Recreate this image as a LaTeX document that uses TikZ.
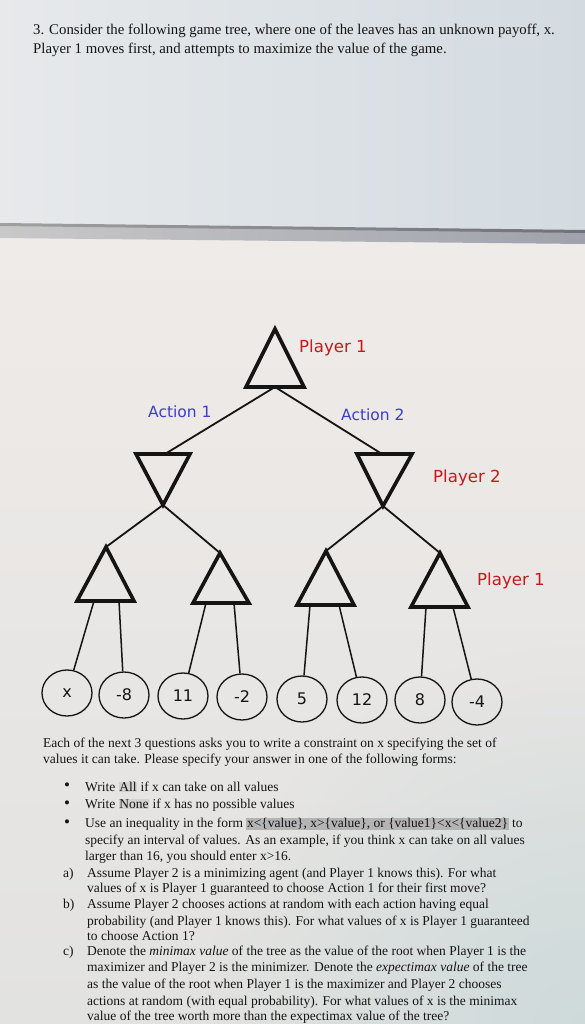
\documentclass[tikz,border=0pt]{standalone}
\usepackage{fontspec}
\setmainfont{Liberation Serif}
\newfontfamily\dejavu{DejaVu Sans}
\usetikzlibrary{shapes.geometric,fadings}
\tikzfading[name=softglow, inner color=transparent!0, outer color=transparent!100]
\definecolor{lblred}{HTML}{C41A1A}
\definecolor{lblblue}{HTML}{3C3CCF}
\definecolor{inkc}{HTML}{141414}
\definecolor{hllight}{HTML}{D2D2D2}
\definecolor{hldark}{HTML}{B4B4B4}
\definecolor{bgTL}{HTML}{E7E9EB}
\definecolor{bgTR}{HTML}{D3DBE1}
\definecolor{bandL}{HTML}{C9C8C9}
\definecolor{bandR}{HTML}{9FA2AC}
\definecolor{midbg}{HTML}{EFEBE9}
\definecolor{lowL}{HTML}{E2E2E0}
\definecolor{lowR}{HTML}{CCD9DA}
\newcommand\hlA[1]{{\setlength{\fboxsep}{0.6pt}\colorbox{hllight}{#1}}}
\newcommand\hlB[1]{{\setlength{\fboxsep}{0.6pt}\colorbox{hldark}{#1}}}
\tikzset{
  tri/.style={draw=inkc, line width=3.6pt, line join=miter},
  edge/.style={draw=inkc, line width=1.8pt},
  leafedge/.style={draw=inkc, line width=1.5pt},
  leaf/.style={ellipse, draw=inkc, line width=1.3pt, minimum width=50pt, minimum height=46pt, inner sep=0pt, font=\dejavu\fontsize{16}{19}\selectfont, text=inkc},
  plabel/.style={anchor=west, inner sep=0pt, font=\dejavu\fontsize{16.6}{19}\selectfont, text=lblred},
  alabel/.style={anchor=west, inner sep=0pt, font=\dejavu\fontsize{15.5}{19}\selectfont, text=lblblue},
  toptxt/.style={anchor=west, inner sep=0pt, font=\fontsize{14.8}{17}\selectfont, text=inkc},
  txt/.style={anchor=west, inner sep=0pt, font=\fontsize{13.5}{16}\selectfont, text=inkc},
  bul/.style={anchor=center, inner sep=0pt, font=\fontsize{17}{16}\selectfont, text=inkc},
}
\begin{document}
\begin{tikzpicture}[x=1pt,y=-1pt]
\useasboundingbox (0,0) rectangle (585,1024);
% background (photo of a screen)
\shade[left color=bgTL, right color=bgTR] (0,0) rectangle (585,232);
\shade[top color=midbg, bottom color=lowL] (0,236) rectangle (585,1024);
\begin{scope}
\clip (0,236) rectangle (585,1024);
\fill[lowR, opacity=0.9, path fading=softglow] (585,1024) circle (380);
\end{scope}
\shade[left color=bandL, right color=bandR] (0,224) -- (585,231) -- (585,244) -- (0,238) -- cycle;
\shade[left color=bandL!80!black, right color=bandR!70!black] (0,223) -- (585,230) -- (585,233) -- (0,226) -- cycle;

% question header
\node[toptxt] (h1) at (33,31) {3. Consider the following game tree, where one of the leaves has an unknown payoff, x.};
\node[toptxt] (h2) at (33,50) {Player 1 moves first, and attempts to maximize the value of the game.};

% tree: triangles
\draw[tri] (275,329) -- (304,387) -- (246,387) -- cycle;
\coordinate (r) at (275,387);
\draw[tri] (136,454) -- (190,454) -- (163,505) -- cycle;
\coordinate (p2l) at (163,505); \coordinate (p2lt) at (165,454);
\draw[tri] (357,454) -- (412,454) -- (383,506) -- cycle;
\coordinate (p2r) at (383,506); \coordinate (p2rt) at (382,454);
\draw[tri] (106,547) -- (134,601) -- (77,601) -- cycle;
\coordinate (t1) at (106,547); \coordinate (t1a) at (94,601); \coordinate (t1b) at (119,601);
\draw[tri] (220,553) -- (249,603) -- (193,603) -- cycle;
\coordinate (t2) at (220,553); \coordinate (t2a) at (206,603); \coordinate (t2b) at (234,603);
\draw[tri] (326,551) -- (354,605) -- (297,605) -- cycle;
\coordinate (t3) at (326,551); \coordinate (t3a) at (310,605); \coordinate (t3b) at (339,605);
\draw[tri] (440,553) -- (468,607) -- (411,607) -- cycle;
\coordinate (t4) at (440,553); \coordinate (t4a) at (426,607); \coordinate (t4b) at (453,607);

% leaves
\node[leaf] (lx) at (67,693) {x};
\node[leaf] (l2) at (124,695) {-8};
\node[leaf] (l3) at (183,696) {11};
\node[leaf] (l4) at (242,697) {-2};
\node[leaf] (l5) at (302,699) {5};
\node[leaf] (l6) at (362,700) {12};
\node[leaf] (l7) at (420,700) {8};
\node[leaf] (l8) at (477,702) {-4};

% connectors
\draw[edge] (r) -- (p2lt);
\draw[edge] (r) -- (p2rt);
\draw[edge] (p2l) -- (t1);
\draw[edge] (p2l) -- (t2);
\draw[edge] (p2r) -- (t3);
\draw[edge] (p2r) -- (t4);
\draw[leafedge] (t1a) -- (lx);
\draw[leafedge] (t1b) -- (l2);
\draw[leafedge] (t2a) -- (l3);
\draw[leafedge] (t2b) -- (l4);
\draw[leafedge] (t3a) -- (l5);
\draw[leafedge] (t3b) -- (l6);
\draw[leafedge] (t4a) -- (l7);
\draw[leafedge] (t4b) -- (l8);

% tree labels
\node[plabel] (pl1) at (299,348) {Player 1};
\node[alabel] (a1) at (148,412) {Action 1};
\node[alabel] (a2) at (341,415) {Action 2};
\node[plabel] (pl2) at (433,478) {Player 2};
\node[plabel] (pl3) at (477,581) {Player 1};

% questions text
\node[txt] (q1) at (43,744) {Each of the next 3 questions asks you to write a constraint on x specifying the set of};
\node[txt] (q2) at (43,760) {values it can take. Please specify your answer in one of the following forms:};
\node[bul] (b1) at (67,787) {\textbullet};
\node[txt] (q3) at (85,787) {Write \hlA{All} if x can take on all values};
\node[bul] (b2) at (67,805) {\textbullet};
\node[txt] (q4) at (85,805) {Write \hlA{None} if x has no possible values};
\node[bul] (b3) at (67,824) {\textbullet};
\node[txt] (q5) at (85,824) {Use an inequality in the form \hlB{x<\{value\}, x>\{value\}, or \{value1\}<x<\{value2\}} to};
\node[txt] (q6) at (85,841) {specify an interval of values. As an example, if you think x can take on all values};
\node[txt] (q7) at (85,857) {larger than 16, you should enter x>16.};
\node[txt] (la) at (63,874) {a)};
\node[txt] (qa1) at (87,874) {Assume Player 2 is a minimizing agent (and Player 1 knows this). For what};
\node[txt] (qa2) at (87,889) {values of x is Player 1 guaranteed to choose Action 1 for their first move?};
\node[txt] (lb) at (63,905) {b)};
\node[txt] (qb1) at (87,905) {Assume Player 2 chooses actions at random with each action having equal};
\node[txt] (qb2) at (87,922) {probability (and Player 1 knows this). For what values of x is Player 1 guaranteed};
\node[txt] (qb3) at (87,936) {to choose Action 1?};
\node[txt] (lc) at (63,952) {c)};
\node[txt] (qc1) at (87,952) {Denote the \textit{minimax value} of the tree as the value of the root when Player 1 is the};
\node[txt] (qc2) at (87,968) {maximizer and Player 2 is the minimizer. Denote the \textit{expectimax value} of the tree};
\node[txt] (qc3) at (87,985) {as the value of the root when Player 1 is the maximizer and Player 2 chooses};
\node[txt] (qc4) at (87,1002) {actions at random (with equal probability). For what values of x is the minimax};
\node[txt] (qc5) at (87,1017) {value of the tree worth more than the expectimax value of the tree?};
\end{tikzpicture}
\end{document}
